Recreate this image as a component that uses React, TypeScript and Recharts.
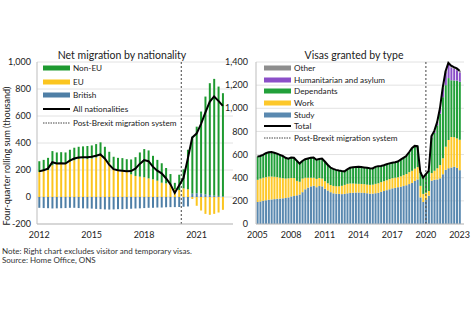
import React from 'react';
import {
  ComposedChart,
  Bar,
  Line,
  XAxis,
  YAxis,
  CartesianGrid,
  ReferenceLine,
} from 'recharts';

const FONT = 'Lato, "Noto Sans", sans-serif';

// ---- Net migration by nationality (four-quarter rolling sums, thousand) ----
const netQuarters: string[] = [
  '2012 Q1', '2012 Q2', '2012 Q3', '2012 Q4',
  '2013 Q1', '2013 Q2', '2013 Q3', '2013 Q4',
  '2014 Q1', '2014 Q2', '2014 Q3', '2014 Q4',
  '2015 Q1', '2015 Q2', '2015 Q3', '2015 Q4',
  '2016 Q1', '2016 Q2', '2016 Q3', '2016 Q4',
  '2017 Q1', '2017 Q2', '2017 Q3', '2017 Q4',
  '2018 Q1', '2018 Q2', '2018 Q3', '2018 Q4',
  '2019 Q1', '2019 Q2', '2019 Q3', '2019 Q4',
  '2020 Q1', '2020 Q2', '2020 Q3', '2020 Q4',
  '2021 Q1', '2021 Q2', '2021 Q3', '2021 Q4',
  '2022 Q1', '2022 Q2', '2022 Q3',
];
const nonEU: number[] = [
  80, 80, 90, 105, 85, 84, 80, 88, 93, 90, 90, 98, 97, 100, 100, 87,
  80, 88, 90, 93, 92, 110, 139, 179, 209, 207, 174, 154, 144, 114, 81, 48,
  113, 141, 293, 422, 493, 608, 724, 828, 865, 810, 764,
];
const eu: number[] = [
  185, 195, 200, 235, 245, 248, 250, 262, 272, 282, 285, 280, 285, 292, 305, 285,
  255, 210, 200, 195, 188, 168, 156, 151, 146, 138, 131, 121, 106, 101, 89, 57,
  52, 64, 57, -15, -65, -100, -125, -132, -125, -115, -95,
];
const british: number[] = [
  -80, -82, -83, -85, -84, -83, -82, -80, -80, -82, -84, -85, -86, -88, -90, -92,
  -93, -92, -90, -90, -88, -87, -85, -84, -82, -80, -80, -78, -78, -76, -75, -75,
  -74, -72, -70, 25, 28, 25, 20, 15, 10, 8, 5,
];
const allNationalities: number[] = [
  190, 198, 210, 258, 248, 250, 248, 270, 285, 292, 294, 295, 298, 305, 315, 285,
  240, 206, 198, 195, 190, 192, 210, 245, 273, 265, 225, 195, 175, 139, 95, 30,
  85, 140, 285, 440, 470, 540, 625, 705, 745, 712, 675,
];
const netTicks: string[] = ['2012 Q1', '2015 Q1', '2018 Q1', '2021 Q1'];
const netYTicks: number[] = [-200, 0, 200, 400, 600, 800, 1000];
const netPostBrexit = '2020 Q1';

// ---- Visas granted by type (thousand) ----
const visaQuarters: string[] = [
  '2005 Q1', '2005 Q2', '2005 Q3', '2005 Q4',
  '2006 Q1', '2006 Q2', '2006 Q3', '2006 Q4',
  '2007 Q1', '2007 Q2', '2007 Q3', '2007 Q4',
  '2008 Q1', '2008 Q2', '2008 Q3', '2008 Q4',
  '2009 Q1', '2009 Q2', '2009 Q3', '2009 Q4',
  '2010 Q1', '2010 Q2', '2010 Q3', '2010 Q4',
  '2011 Q1', '2011 Q2', '2011 Q3', '2011 Q4',
  '2012 Q1', '2012 Q2', '2012 Q3', '2012 Q4',
  '2013 Q1', '2013 Q2', '2013 Q3', '2013 Q4',
  '2014 Q1', '2014 Q2', '2014 Q3', '2014 Q4',
  '2015 Q1', '2015 Q2', '2015 Q3', '2015 Q4',
  '2016 Q1', '2016 Q2', '2016 Q3', '2016 Q4',
  '2017 Q1', '2017 Q2', '2017 Q3', '2017 Q4',
  '2018 Q1', '2018 Q2', '2018 Q3', '2018 Q4',
  '2019 Q1', '2019 Q2', '2019 Q3', '2019 Q4',
  '2020 Q1', '2020 Q2', '2020 Q3', '2020 Q4',
  '2021 Q1', '2021 Q2', '2021 Q3', '2021 Q4',
  '2022 Q1', '2022 Q2', '2022 Q3', '2022 Q4',
  '2023 Q1',
];
const study: number[] = [
  190, 195, 200, 205, 210, 212, 215, 218, 220, 222, 225, 230, 238, 242, 248, 255,
  275, 300, 315, 325, 330, 318, 328, 325, 305, 290, 275, 265, 262, 260, 258, 260,
  265, 268, 270, 272, 272, 270, 268, 266, 262, 262, 266, 270, 278, 285, 292, 300,
  308, 312, 318, 322, 328, 335, 345, 355, 372, 385, 230, 190, 210, 245, 375, 382,
  385, 395, 430, 468, 482, 488, 495, 485, 465,
];
const work: number[] = [
  192, 197, 200, 200, 200, 198, 193, 187, 180, 174, 168, 165, 160, 155, 125, 110,
  118, 100, 85, 75, 70, 72, 70, 68, 65, 62, 62, 64, 64, 66, 72, 78,
  82, 82, 80, 76, 75, 76, 76, 74, 76, 78, 81, 82, 84, 85, 86, 88,
  88, 88, 86, 90, 94, 97, 103, 105, 106, 107, 100, 70, 60, 40, 65, 78,
  97, 115, 138, 200, 244, 264, 255, 255, 263,
];
const dependants: number[] = [
  200, 196, 198, 207, 210, 212, 208, 203, 198, 192, 179, 170, 177, 175, 175, 157,
  152, 160, 166, 172, 175, 166, 164, 173, 170, 160, 151, 147, 142, 136, 128, 117,
  125, 136, 140, 144, 147, 146, 145, 146, 144, 140, 147, 148, 140, 138, 138, 136,
  134, 134, 136, 144, 150, 156, 172, 195, 197, 180, 120, 140, 160, 175, 305, 327,
  371, 443, 528, 532, 535, 490, 490, 499, 501,
];
const humanitarian: number[] = [
  0, 0, 0, 0, 0, 0, 0, 0, 0, 0, 0, 0, 0, 0, 0, 0,
  0, 0, 0, 0, 0, 0, 0, 0, 0, 0, 0, 0, 0, 0, 0, 0,
  0, 0, 0, 0, 0, 0, 0, 0, 0, 0, 0, 0, 0, 0, 0, 0,
  0, 0, 0, 0, 0, 0, 0, 0, 0, 0, 0, 0, 0, 0, 5, 8,
  15, 35, 70, 105, 115, 110, 100, 90, 80,
];
const other: number[] = [
  0, 0, 0, 0, 0, 0, 0, 0, 0, 0, 0, 0, 0, 0, 0, 0,
  0, 0, 0, 0, 0, 0, 0, 0, 0, 0, 0, 0, 0, 0, 0, 0,
  0, 0, 0, 0, 0, 0, 0, 0, 0, 0, 0, 0, 0, 0, 0, 0,
  0, 0, 0, 0, 0, 0, 0, 0, 0, 0, 0, 0, 0, 0, 10, 10,
  12, 12, 14, 15, 16, 16, 16, 16, 16,
];
const visaTotal: number[] = [
  582, 588, 598, 612, 620, 622, 616, 608, 598, 588, 572, 565, 575, 572, 548, 522,
  545, 560, 566, 572, 575, 556, 562, 566, 540, 512, 488, 476, 468, 462, 458, 455,
  472, 486, 490, 492, 494, 492, 489, 486, 482, 480, 494, 500, 502, 508, 516, 524,
  530, 534, 540, 556, 572, 588, 620, 655, 675, 672, 450, 400, 430, 460, 760, 805,
  880, 1000, 1180, 1320, 1392, 1368, 1356, 1345, 1325,
];
const visaTicks: string[] = ['2005 Q1', '2008 Q1', '2011 Q1', '2014 Q1', '2017 Q1', '2020 Q1', '2023 Q1'];
const visaYTicks: number[] = [0, 200, 400, 600, 800, 1000, 1200, 1400];
const visaPostBrexit = '2020 Q1';

const netRows = netQuarters.map((q, i) => ({
  q,
  nonEU: nonEU[i],
  eu: eu[i],
  british: british[i],
  total: allNationalities[i],
}));

const visaRows = visaQuarters.map((q, i) => ({
  q,
  study: study[i],
  work: work[i],
  dependants: dependants[i],
  humanitarian: humanitarian[i],
  other: other[i],
  total: visaTotal[i],
}));

const C = {
  nonEU: '#1e9a30',
  eu: '#fbc51f',
  british: '#4f7fa6',
  study: '#5a89b0',
  work: '#fdc82a',
  dependants: '#22a03a',
  humanitarian: '#8b4fc8',
  other: '#8e8e8e',
  grid: '#e2e2e2',
  axis: '#bdbdbd',
  text: '#222',
  dash: '#444',
};

const thousands = (v: number) => v.toLocaleString('en-GB');
const yearOf = (v: string) => v.slice(0, 4);
const tickStyle = { fontSize: 9, fill: C.text, fontFamily: FONT };

type LegendItem = { label: string; color: string; kind: 'bar' | 'line' | 'dash' };

function KeyBox({ items, x, y, step }: { items: LegendItem[]; x: number; y: number; step: number }) {
  return (
    <div style={{ position: 'absolute', left: x, top: y }}>
      {items.map((it, i) => (
        <div
          key={it.label}
          style={{
            position: 'absolute',
            left: 0,
            top: i * step - 6,
            height: 12,
            display: 'flex',
            alignItems: 'center',
            whiteSpace: 'nowrap',
          }}
        >
          <svg width={27} height={12} style={{ display: 'block' }}>
            {it.kind === 'bar' && <rect x={0} y={3.5} width={27} height={5} fill={it.color} />}
            {it.kind === 'line' && <line x1={0} x2={27} y1={6} y2={6} stroke={it.color} strokeWidth={2} />}
            {it.kind === 'dash' && (
              <line x1={0} x2={27} y1={6} y2={6} stroke={it.color} strokeWidth={1} strokeDasharray="1.5 1" />
            )}
          </svg>
          <span style={{ marginLeft: 3, fontSize: 8.2, color: C.text, lineHeight: '12px' }}>{it.label}</span>
        </div>
      ))}
    </div>
  );
}

const netKey: LegendItem[] = [
  { label: 'Non-EU', color: C.nonEU, kind: 'bar' },
  { label: 'EU', color: C.eu, kind: 'bar' },
  { label: 'British', color: C.british, kind: 'bar' },
  { label: 'All nationalities', color: '#000', kind: 'line' },
  { label: 'Post-Brexit migration system', color: C.dash, kind: 'dash' },
];

const visaKey: LegendItem[] = [
  { label: 'Other', color: C.other, kind: 'bar' },
  { label: 'Humanitarian and asylum', color: C.humanitarian, kind: 'bar' },
  { label: 'Dependants', color: C.dependants, kind: 'bar' },
  { label: 'Work', color: C.work, kind: 'bar' },
  { label: 'Study', color: C.study, kind: 'bar' },
  { label: 'Total', color: '#000', kind: 'line' },
  { label: 'Post-Brexit migration system', color: C.dash, kind: 'dash' },
];

function NetMigrationChart() {
  return (
    <ComposedChart
      width={237}
      height={316}
      data={netRows}
      stackOffset="sign"
      barCategoryGap="30%"
      margin={{ top: 62, right: 4, bottom: 72, left: 0 }}
      style={{ fontFamily: FONT }}
    >
      <CartesianGrid vertical={false} stroke={C.grid} />
      <XAxis
        dataKey="q"
        ticks={netTicks}
        interval={0}
        tickFormatter={yearOf}
        tickLine={false}
        axisLine={{ stroke: C.axis }}
        height={20}
        padding={{ left: 0, right: 8 }}
        tick={tickStyle}
      />
      <YAxis
        domain={[-200, 1000]}
        ticks={netYTicks}
        width={37}
        tickLine={false}
        axisLine={{ stroke: C.axis }}
        tickSize={4}
        tickMargin={2}
        tickFormatter={thousands}
        tick={tickStyle}
      />
      <Bar dataKey="british" stackId="n" fill={C.british} isAnimationActive={false} />
      <Bar dataKey="eu" stackId="n" fill={C.eu} isAnimationActive={false} />
      <Bar dataKey="nonEU" stackId="n" fill={C.nonEU} isAnimationActive={false} />
      <ReferenceLine x={netPostBrexit} position="end" stroke={C.dash} strokeDasharray="2 2" />
      <Line
        dataKey="total"
        type="linear"
        stroke="#000"
        strokeWidth={2}
        dot={false}
        isAnimationActive={false}
      />
    </ComposedChart>
  );
}

function VisaChart() {
  return (
    <ComposedChart
      width={254}
      height={316}
      data={visaRows}
      barCategoryGap="22%"
      margin={{ top: 62, right: 10, bottom: 72, left: 0 }}
      style={{ fontFamily: FONT }}
    >
      <CartesianGrid vertical={false} stroke={C.grid} />
      <XAxis
        dataKey="q"
        ticks={visaTicks}
        interval={0}
        tickFormatter={yearOf}
        tickLine={false}
        axisLine={{ stroke: C.axis }}
        height={20}
        padding={{ left: 0, right: 3 }}
        tick={tickStyle}
      />
      <YAxis
        domain={[0, 1400]}
        ticks={visaYTicks}
        width={36}
        tickLine={false}
        axisLine={{ stroke: C.axis }}
        tickFormatter={thousands}
        tick={tickStyle}
      />
      <Bar dataKey="study" stackId="v" fill={C.study} isAnimationActive={false} />
      <Bar dataKey="work" stackId="v" fill={C.work} isAnimationActive={false} />
      <Bar dataKey="dependants" stackId="v" fill={C.dependants} isAnimationActive={false} />
      <Bar dataKey="humanitarian" stackId="v" fill={C.humanitarian} isAnimationActive={false} />
      <Bar dataKey="other" stackId="v" fill={C.other} isAnimationActive={false} />
      <ReferenceLine x={visaPostBrexit} stroke={C.dash} strokeDasharray="2 2" />
      <Line
        dataKey="total"
        type="linear"
        stroke="#000"
        strokeWidth={2}
        dot={false}
        isAnimationActive={false}
      />
    </ComposedChart>
  );
}

export default function App() {
  const title: React.CSSProperties = {
    position: 'absolute',
    top: 48,
    width: 200,
    textAlign: 'center',
    fontSize: 10.5,
    lineHeight: '14px',
    color: C.text,
    whiteSpace: 'nowrap',
  };
  const note: React.CSSProperties = {
    position: 'absolute',
    left: 2,
    fontSize: 8,
    lineHeight: '10px',
    color: '#333',
    whiteSpace: 'nowrap',
  };
  return (
    <div
      style={{
        position: 'absolute',
        left: 0,
        top: 0,
        width: 474,
        height: 316,
        background: '#fff',
        overflow: 'hidden',
        fontFamily: FONT,
      }}
    >
      <div style={{ position: 'absolute', left: 0, top: 0 }}>
        <NetMigrationChart />
      </div>
      <div style={{ position: 'absolute', left: 220, top: 0 }}>
        <VisaChart />
      </div>

      <div style={{ ...title, left: 122 - 100 }}>Net migration by nationality</div>
      <div style={{ ...title, left: 354 - 100 }}>Visas granted by type</div>

      <div
        style={{
          position: 'absolute',
          left: 6.5 - 100,
          top: 156 - 6,
          width: 200,
          height: 12,
          lineHeight: '12px',
          textAlign: 'center',
          fontSize: 9,
          color: C.text,
          transform: 'rotate(-90deg)',
          whiteSpace: 'nowrap',
        }}
      >
        Four-quarter rolling sum (thousand)
      </div>

      <KeyBox items={netKey} x={43} y={68.3} step={13.6} />
      <KeyBox items={visaKey} x={264} y={68.3} step={11.6} />

      <div style={{ ...note, top: 245.7 }}>Note: Right chart excludes visitor and temporary visas.</div>
      <div style={{ ...note, top: 255 }}>Source: Home Office, ONS</div>
    </div>
  );
}
